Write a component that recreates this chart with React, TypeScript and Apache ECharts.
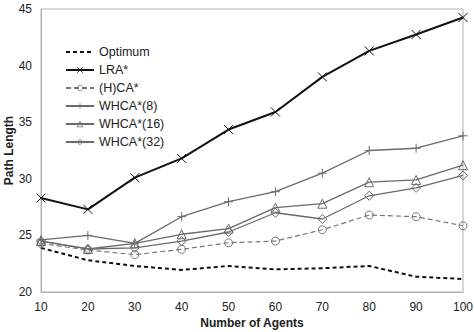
import React, { useEffect, useRef } from "react";
import * as echarts from "echarts";

const agents = [10, 20, 30, 40, 50, 60, 70, 80, 90, 100];
const optimum = [23.9, 22.8, 22.3, 21.95, 22.3, 22.0, 22.1, 22.3, 21.35, 21.15];
const lra = [28.3, 27.3, 30.1, 31.8, 34.35, 35.9, 39.0, 41.3, 42.75, 44.25];
const hca = [24.3, 23.7, 23.3, 23.77, 24.35, 24.5, 25.5, 26.8, 26.65, 25.85];
const whca8 = [24.6, 25.0, 24.3, 26.65, 27.98, 28.86, 30.5, 32.5, 32.7, 33.8];
const whca16 = [24.5, 23.8, 24.3, 25.1, 25.6, 27.45, 27.8, 29.7, 29.9, 31.2];
const whca32 = [24.5, 23.8, 23.9, 24.5, 25.3, 27.0, 26.45, 28.5, 29.2, 30.3];
const seriesNames = ["Optimum", "LRA*", "(H)CA*", "WHCA*(8)", "WHCA*(16)", "WHCA*(32)"];

const CROSS = "path://M0,0L10,10M10,0L0,10";
const PLUS = "path://M5,0L5,10M0,5L10,5";
const DIAMOND = "path://M5,0L10,5L5,10L0,5Z";

const pair = (ys: number[]) => agents.map((x, i) => [x, ys[i]]);

export default function App() {
  const ref = useRef<HTMLDivElement>(null);
  useEffect(() => {
    if (!ref.current) return;
    const chart = echarts.init(ref.current, null, { renderer: "svg" });
    const font = "'Liberation Sans', Arial, sans-serif";
    const gray = "#6a6a6a";
    const mk = (
      name: string,
      data: number[],
      color: string,
      width: number,
      type: any,
      symbol: string,
      size: number
    ) => ({
      name,
      type: "line",
      data: pair(data),
      symbol,
      symbolSize: size,
      showSymbol: size > 0,
      lineStyle: { color, width, type },
      itemStyle: {
        color: "transparent",
        borderColor: size > 0 ? color : "transparent",
        borderWidth: size > 0 ? 1 : 0,
      },
      emphasis: { disabled: true },
    });
    chart.setOption({
      animation: false,
      textStyle: { fontFamily: font },
      grid: {
        left: 41,
        right: 11,
        top: 9,
        bottom: 40,
        outerBoundsMode: "none",
        containLabel: false,
        show: true,
        borderColor: "#b0b0b0",
        borderWidth: 1,
      },
      legend: {
        orient: "vertical",
        left: 60,
        top: 40,
        itemWidth: 28,
        itemHeight: 7,
        itemGap: 4,
        data: seriesNames,
        itemStyle: { borderWidth: 0.8 },
        textStyle: { fontSize: 12.5, color: "#222", fontFamily: font, lineHeight: 14 },
      },
      xAxis: {
        type: "value",
        min: 10,
        max: 100,
        interval: 10,
        name: "Number of Agents",
        nameLocation: "middle",
        nameGap: 25,
        nameMoveOverlap: false,
        nameTextStyle: { fontWeight: "bold", fontSize: 12, color: "#222" },
        axisLine: { lineStyle: { color: "#b0b0b0" } },
        axisTick: { show: false },
        splitLine: { show: false },
        axisLabel: { fontSize: 12, color: "#222", margin: 9 },
      },
      yAxis: {
        type: "value",
        min: 20,
        max: 45,
        interval: 5,
        name: "Path Length",
        nameLocation: "middle",
        nameGap: 26,
        nameMoveOverlap: false,
        nameTextStyle: { fontWeight: "bold", fontSize: 12, color: "#222" },
        axisLine: { show: true, lineStyle: { color: "#b0b0b0" } },
        axisTick: { show: false },
        splitLine: { show: false },
        axisLabel: { fontSize: 12, color: "#222", margin: 9 },
      },
      series: [
        mk("Optimum", optimum, "#111", 2, [4, 3], "rect", 0),
        mk("LRA*", lra, "#111", 2, "solid", CROSS, 9),
        mk("(H)CA*", hca, "#777", 1.2, [5, 3], "circle", 8),
        mk("WHCA*(8)", whca8, gray, 1.3, "solid", PLUS, 9),
        mk("WHCA*(16)", whca16, gray, 1.3, "solid", "triangle", 9),
        mk("WHCA*(32)", whca32, gray, 1.3, "solid", DIAMOND, 9),
      ],
    });
    return () => chart.dispose();
  }, []);
  return <div ref={ref} style={{ width: 474, height: 332, position: "absolute", left: 0, top: 0 }} />;
}
